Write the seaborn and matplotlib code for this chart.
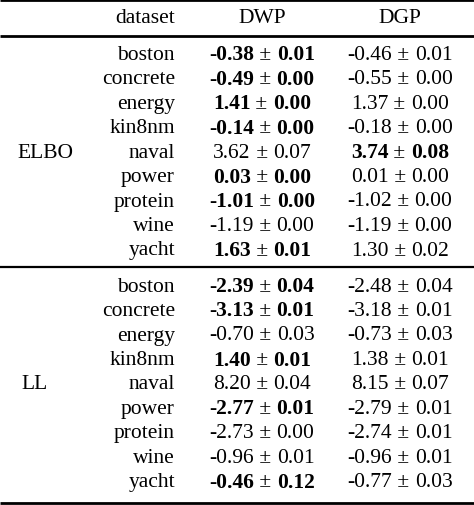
import matplotlib
matplotlib.use("Agg")
import matplotlib.pyplot as plt
import seaborn as sns

sns.set_theme(style="white")
plt.rcParams['font.family'] = ['Liberation Serif', 'DejaVu Serif']
plt.rcParams['text.color'] = 'black'

datasets = ["boston", "concrete", "energy", "kin8nm", "naval", "power", "protein", "wine", "yacht"]
groups = ["ELBO", "LL"]
elbo_dwp = [("-0.38", "0.01"), ("-0.49", "0.00"), ("1.41", "0.00"), ("-0.14", "0.00"), ("3.62", "0.07"),
            ("0.03", "0.00"), ("-1.01", "0.00"), ("-1.19", "0.00"), ("1.63", "0.01")]
elbo_dgp = [("-0.46", "0.01"), ("-0.55", "0.00"), ("1.37", "0.00"), ("-0.18", "0.00"), ("3.74", "0.08"),
            ("0.01", "0.00"), ("-1.02", "0.00"), ("-1.19", "0.00"), ("1.30", "0.02")]
elbo_bold = ["DWP", "DWP", "DWP", "DWP", "DGP", "DWP", "DWP", "", "DWP"]
ll_dwp = [("-2.39", "0.04"), ("-3.13", "0.01"), ("-0.70", "0.03"), ("1.40", "0.01"), ("8.20", "0.04"),
          ("-2.77", "0.01"), ("-2.73", "0.00"), ("-0.96", "0.01"), ("-0.46", "0.12")]
ll_dgp = [("-2.48", "0.04"), ("-3.18", "0.01"), ("-0.73", "0.03"), ("1.38", "0.01"), ("8.15", "0.07"),
          ("-2.79", "0.01"), ("-2.74", "0.01"), ("-0.96", "0.01"), ("-0.77", "0.03")]
ll_bold = ["DWP", "DWP", "", "DWP", "", "DWP", "", "", "DWP"]

W, H = 474, 506
fig = plt.figure(figsize=(W / 100, H / 100), dpi=100)
ax = fig.add_axes([0, 0, 1, 1])
ax.set_xlim(0, W)
ax.set_ylim(H, 0)
ax.axis("off")
fs = 15.5
renderer = fig.canvas.get_renderer()

def width(s, weight):
    t = ax.text(0, 0, s, fontsize=fs, fontweight=weight)
    w = t.get_window_extent(renderer).width
    t.remove()
    return w

def value(xc, y, v, bold):
    m, s = v
    wt = "bold" if bold else "normal"
    parts = [(m, wt), (" \u00b1 ", "normal"), (s, wt)]
    ws = [width(p, w) for p, w in parts]
    x = xc - sum(ws) / 2
    for (p, w), pw in zip(parts, ws):
        ax.text(x, y, p, ha="left", va="center", fontsize=fs, fontweight=w)
        x += pw

ax.text(175, 18, "dataset", ha="right", va="center", fontsize=fs)
ax.text(262, 18, "DWP", ha="center", va="center", fontsize=fs)
ax.text(400, 18, "DGP", ha="center", va="center", fontsize=fs)
for y, lw in [(1, 2.0), (37, 2.0), (268, 1.6), (504, 2.0)]:
    ax.plot([0, W], [y, y], color="black", lw=lw, solid_capstyle="butt")

sections = [(55, groups[0], elbo_dwp, elbo_dgp, elbo_bold), (287, groups[1], ll_dwp, ll_dgp, ll_bold)]
step = 24.5
for y0, g, dwp, dgp, bold in sections:
    ax.text(45 if g == "ELBO" else 35, y0 + 4 * step, g, ha="center", va="center", fontsize=fs)
    for i, d in enumerate(datasets):
        y = y0 + i * step
        ax.text(175, y, d, ha="right", va="center", fontsize=fs)
        value(262, y, dwp[i], bold[i] == "DWP")
        value(400, y, dgp[i], bold[i] == "DGP")

fig.savefig("out.png", dpi=100)
